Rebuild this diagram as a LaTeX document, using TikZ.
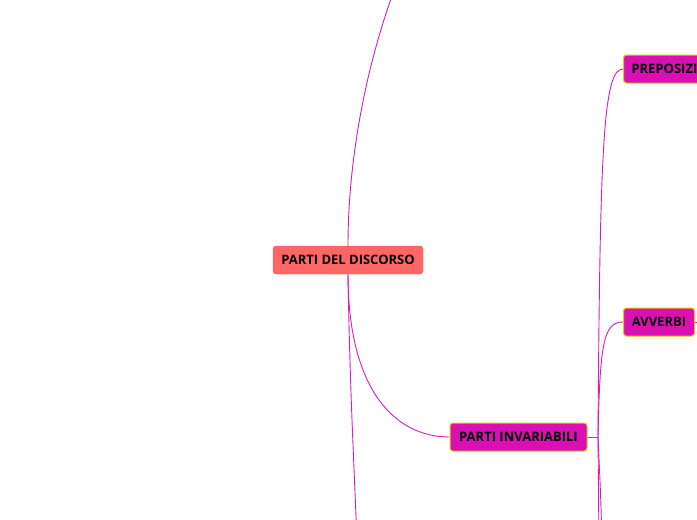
\documentclass[tikz,border=0pt]{standalone}
\usepackage{fontspec}
\setmainfont{Open Sans}
\definecolor{rootfill}{HTML}{FF6666}
\definecolor{magfill}{HTML}{DA10B4}
\definecolor{goldline}{HTML}{E8C40A}
\definecolor{linkcol}{HTML}{D81CC0}
\tikzset{
  rootbox/.style={draw=rootfill!90!black, line width=0.4pt, fill=rootfill, rounded corners=3pt,
    minimum height=28pt, inner xsep=8pt, font=\bfseries\fontsize{13}{15}\selectfont, text=black},
  subbox/.style={draw=goldline, line width=1pt, fill=magfill, rounded corners=3pt,
    minimum height=28pt, inner xsep=8pt, font=\bfseries\fontsize{13}{15}\selectfont, text=black},
  link/.style={draw=linkcol, line width=0.9pt}
}
\begin{document}
\begin{tikzpicture}[x=1pt,y=-1pt]
\useasboundingbox (0,0) rectangle (697,520);
\clip (0,0) rectangle (697,520);
\coordinate (rootpos) at (348,260);
\coordinate (invpos) at (518.5,437);
\coordinate (topend) at (400,-25);
\coordinate (rootdown) at (357,545);
\coordinate (junc) at (598,437);
\coordinate (downa) at (599,545);
\coordinate (downb) at (602,545);
\coordinate (avvout) at (705,322);
\path (rootpos) node[rootbox, minimum width=150pt, draw=none, fill=none, text opacity=0] (root) {PARTI DEL DISCORSO};
\path (invpos) node[subbox, minimum width=137pt, draw=none, fill=none, text opacity=0] (inv) {PARTI INVARIABILI};
\path (623,69) node[subbox, anchor=west, draw=none, fill=none, text opacity=0] (prep) {PREPOSIZIONI};
\path (623,322) node[subbox, anchor=west, minimum width=71pt, draw=none, fill=none, text opacity=0] (avv) {AVVERBI};
\draw[link] (root.north) .. controls (348,150) and (370,50) .. (topend);
\draw[link] (root.south) .. controls (350,400) and (355,480) .. (rootdown);
\draw[link] (root.south) .. controls (348,390) and (395,437) .. (inv.west);
\draw[link] (inv.east) -- (junc);
\draw[link] (junc) .. controls (600,150) and (603,69) .. (prep.west);
\draw[link] (junc) .. controls (600,345) and (603,322) .. (avv.west);
\draw[link] (junc) -- (downa);
\draw[link] (junc) .. controls (600,480) and (601,500) .. (downb);
\draw[link] (avv.east) -- (avvout);
\node[rootbox, minimum width=150pt] at (root) {PARTI DEL DISCORSO};
\node[subbox, minimum width=137pt] at (inv) {PARTI INVARIABILI};
\node[subbox, anchor=west] at (prep.west) {PREPOSIZIONI};
\node[subbox, anchor=west, minimum width=71pt] at (avv.west) {AVVERBI};
\end{tikzpicture}
\end{document}
